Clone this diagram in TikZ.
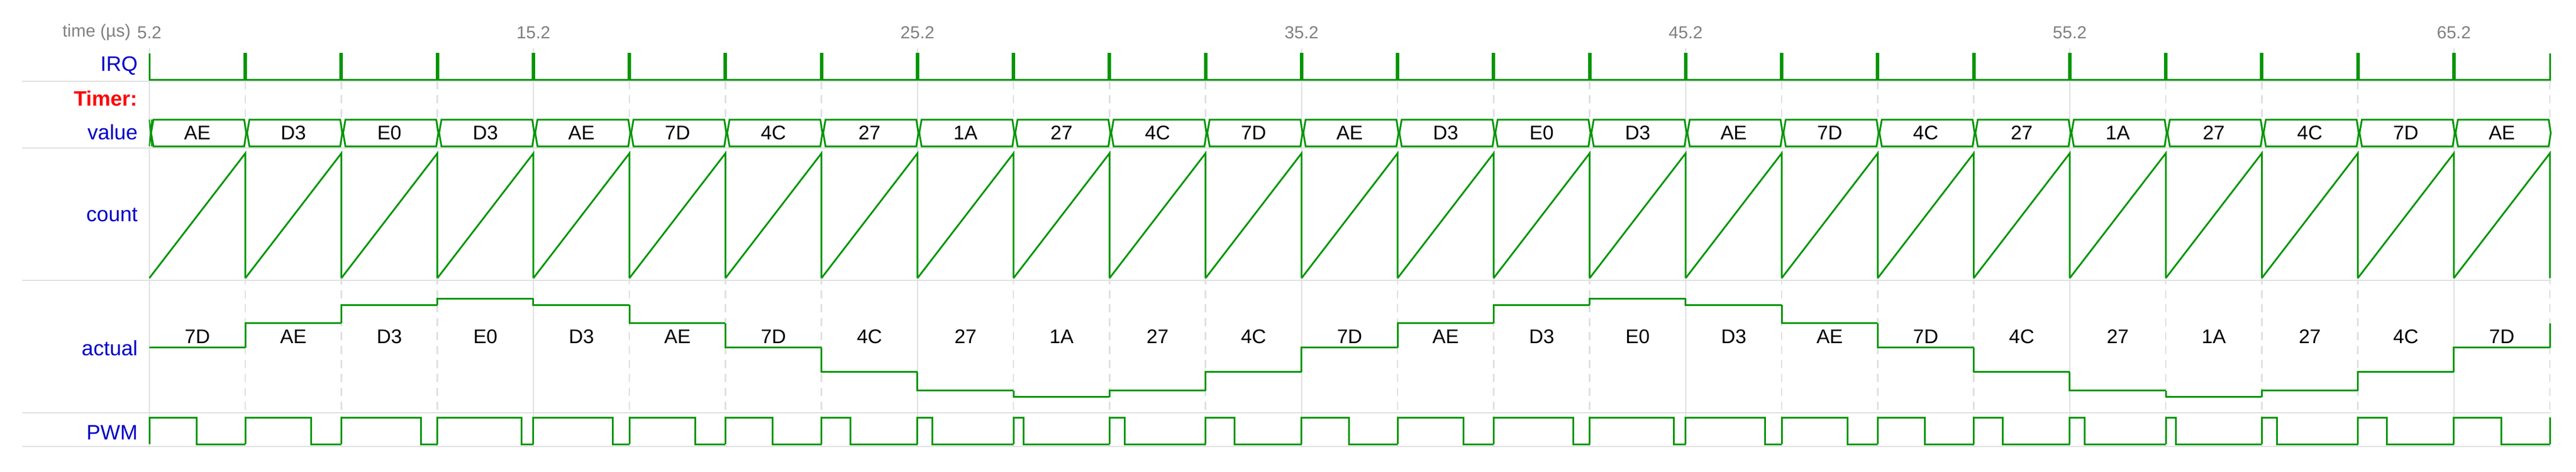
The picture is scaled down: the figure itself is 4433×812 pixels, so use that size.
\documentclass[tikz,border=0pt]{standalone}
\usepackage{fontspec}
\setmainfont{Liberation Sans}
\begin{document}
\begin{tikzpicture}[x=1pt,y=-1pt,
  wave/.style={draw={rgb,255:red,0;green,150;blue,0},line width=3pt,line join=miter},
  grid/.style={draw=black!12,line width=2.5pt},
  sig/.style={anchor=east,text={rgb,255:red,0;green,0;blue,200},font=\fontsize{36}{40}\selectfont,inner sep=0pt},
  val/.style={font=\fontsize{34}{38}\selectfont,inner sep=0pt},
  tick/.style={text=black!50,font=\fontsize{30}{34}\selectfont,inner sep=0pt}]
\useasboundingbox (0,0) rectangle (4433,812);
\def\P{165.24}
% grid
\foreach \i in {0,...,25}{
  \pgfmathsetmacro\x{257+\i*\P}
  \pgfmathtruncatemacro\m{mod(\i,4)}
  \ifnum\m=0 \draw[grid] (\x,83) -- (\x,769);
  \else \draw[grid,dash pattern=on 14pt off 10pt] (\x,140) -- (\x,769);\fi
}
\foreach \y in {140,255,483,711,769} \draw[grid] (38,\y) -- (4390,\y);
% labels
\node[tick,anchor=east] (tl) at (225,56) {time (µs)};
\foreach \t [count=\k from 0] in {5.2,15.2,25.2,35.2,45.2,55.2,65.2}{
  \pgfmathsetmacro\x{257+4*\k*\P}
  \node[tick] (t\k) at (\x,56) {\t};
}
\node[sig] (lirq) at (237,113) {IRQ};
\node[sig,text=red,font=\fontsize{36}{40}\selectfont\bfseries] (ltim) at (237,170) {Timer:};
\node[sig] (lval) at (237,228) {value};
\node[sig] (lcnt) at (237,370) {count};
\node[sig] (lact) at (237,600) {actual};
\node[sig] (lpwm) at (237,745) {PWM};
% IRQ
\draw[wave] (257,92) -- (257,137) -- (4388,137) -- (4388,92);
\foreach \i in {1,...,24}{
  \pgfmathsetmacro\x{257+\i*\P}
  \draw[wave] (\x-1.5,137) -- (\x-1.5,92) -- (\x+1.5,92) -- (\x+1.5,137);
}
% value bus start
\draw[wave,line width=2pt] (257,206) -- (261,252) (261,206) -- (257,252);
% periods
\foreach \i/\vl/\al/\av/\pv in {
 0/AE/7D/125/125, 1/D3/AE/174/125, 2/E0/D3/211/174, 3/D3/E0/224/211, 4/AE/D3/211/224,
 5/7D/AE/174/211, 6/4C/7D/125/174, 7/27/4C/76/125, 8/1A/27/39/76, 9/27/1A/26/39,
 10/4C/27/39/26, 11/7D/4C/76/39, 12/AE/7D/125/76, 13/D3/AE/174/125, 14/E0/D3/211/174,
 15/D3/E0/224/211, 16/AE/D3/211/224, 17/7D/AE/174/211, 18/4C/7D/125/174, 19/27/4C/76/125,
 20/1A/27/39/76, 21/27/1A/26/39, 22/4C/27/39/26, 23/7D/4C/76/39, 24/AE/7D/125/76}{
  \pgfmathsetmacro\xa{257+\i*\P}
  \pgfmathsetmacro\xb{257+(\i+1)*\P}
  \pgfmathsetmacro\xc{257+(\i+0.5)*\P}
  \pgfmathsetmacro\ya{706-0.857*\av}
  \pgfmathsetmacro\yp{706-0.857*\pv}
  \pgfmathsetmacro\xw{\xa+\P*((\av+1)/256)}
  % value bus
  \draw[wave] (\xa+3,229) -- (\xa+7,206) -- (\xb-2,206) -- (\xb+1.5,229) -- (\xb-2,252) -- (\xa+7,252) -- cycle;
  \node[val] (v\i) at (\xc,229) {\vl};
  % count
  \draw[wave] (\xa,479) -- (\xb,264) -- (\xb,479);
  % actual
  \draw[wave] (\xa,\yp) -- (\xa,\ya) -- (\xb,\ya);
  \node[val] (a\i) at (\xc,580) {\al};
  % PWM
  \draw[wave] (\xa,765) -- (\xa,719) -- (\xw,719) -- (\xw,765) -- (\xb,765);
}
\draw[wave] (4388,599) -- (4388,557);
\draw[wave] (4388,765) -- (4388,719);
\end{tikzpicture}
\end{document}
